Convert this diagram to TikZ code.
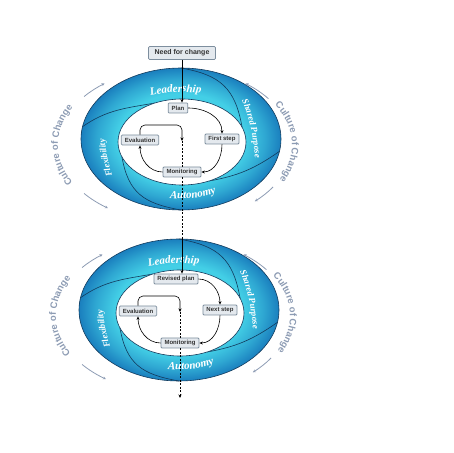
\documentclass[tikz,border=0pt]{standalone}
\usepackage{fontspec}
\setmainfont{Liberation Serif}
\setsansfont{Liberation Sans}
\usetikzlibrary{arrows.meta,decorations.text}

\definecolor{ringdark}{HTML}{1A7FBE}
\definecolor{ringlight}{HTML}{43CFE6}
\definecolor{ringline}{HTML}{123A5C}
\definecolor{boxfill}{HTML}{E4E9EE}
\definecolor{boxedge}{HTML}{7D8E9E}
\definecolor{culture}{HTML}{8C9BB3}

\pgfdeclareradialshading{ringshade}{\pgfpoint{0bp}{0bp}}{color(0bp)=(ringlight); color(16bp)=(ringlight); color(21bp)=(ringlight!50!ringdark); color(25bp)=(ringdark); color(50bp)=(ringdark)}

% white label along a path: size, path, text
\newcommand{\ringlabel}[3]{%
  \path[decorate, decoration={text along path, text align=center, text color=white,
    text={|\fontsize{#1}{#1}\selectfont\bfseries\itshape|#3}}] #2;}
\newcommand{\culturetext}[1]{%
  \path[decorate, decoration={text along path, text align=center, text color=culture,
    text={|\sffamily\bfseries\fontsize{9.5}{10}\selectfont|Culture of Change}}] #1;}

\tikzset{
  stepbox/.style={draw=boxedge, fill=boxfill, rounded corners=1pt, line width=0.8pt,
    text=black!80, font=\sffamily\bfseries\fontsize{6}{7}\selectfont,
    minimum height=10pt, inner xsep=3.5pt, inner ysep=1.5pt},
  needbox/.style={stepbox, font=\sffamily\bfseries\fontsize{7}{8}\selectfont,
    minimum height=13pt, inner xsep=6pt},
  flow/.style={line width=0.6pt, -{Stealth[length=3.5pt, width=3pt]}},
  dashline/.style={line width=0.8pt, dash pattern=on 2pt off 1.5pt},
  swirl/.style={ringline, line width=0.6pt},
  culturearrow/.style={culture, line width=0.8pt, -{Stealth[length=3pt, width=3pt, open]}}
}

\begin{document}
\begin{tikzpicture}[x=1pt, y=1pt]
    \useasboundingbox (0,0) rectangle (453,453);

    % the two cycles
    \foreach \i/\cx/\cy/\plantext/\steptext in {1/181/314/Plan/First step, 2/179/143/Revised plan/Next step}{
    \begin{scope}[shift={(\cx,\cy)}]
        % ring and its four swirls
        \shade[shading=ringshade] (0,0) ellipse [x radius=100pt, y radius=71pt];
        \draw[swirl] (0,71) to[out=-10, in=100, looseness=1.2] (61.1,11.7);
        \draw[swirl] (98.5,-12.3) to[out=215, in=10] (28,-42);
        \draw[swirl] (0,-71) to[out=170, in=280, looseness=1.2] (-59.1,-17.7);
        \draw[swirl] (-98.5,12.3) to[out=35, in=190] (-26,36);
        \draw[swirl] (0,0) ellipse [x radius=100pt, y radius=71pt];
        \filldraw[swirl, fill=white] (1,-3) ellipse [x radius=64pt, y radius=43pt];

        % ring labels
        \ringlabel{11}{(150:82pt and 47pt) arc[start angle=150, end angle=40, x radius=82pt, y radius=47pt]}{Leadership}
        \ringlabel{9}{(56,48) .. controls (66,30) and (72,12) .. (75,-30)}{Shared Purpose}
        \ringlabel{9}{(-64,-52) .. controls (-72,-30) and (-76,-10) .. (-78,16)}{Flexibility}
        \ringlabel{11}{(235:80pt and 60pt) arc[start angle=235, end angle=325, x radius=80pt, y radius=60pt]}{Autonomy}

        % culture of change, both sides
        \culturetext{(-6,-6) ++(228:117pt and 77pt) arc[start angle=228, end angle=132, x radius=117pt, y radius=77pt]}
        \culturetext{(-6,-6) ++(50:117pt and 77pt) arc[start angle=50, end angle=-46, x radius=117pt, y radius=77pt]}
        \draw[culturearrow] (-6,-6) ++(141:117pt and 77pt) arc[start angle=141, end angle=127, x radius=117pt, y radius=77pt];
        \draw[culturearrow] (-6,-6) ++(219:117pt and 77pt) arc[start angle=219, end angle=235, x radius=117pt, y radius=77pt];
        \draw[culturearrow] (-6,-6) ++(37:117pt and 77pt) arc[start angle=37, end angle=53, x radius=117pt, y radius=77pt];
        \draw[culturearrow] (-6,-6) ++(-33:117pt and 77pt) arc[start angle=-33, end angle=-47, x radius=117pt, y radius=77pt];

        % steps
        \node[stepbox] (plan\i) at (-3,31) {\plantext};
        \node[stepbox] (step\i) at (41,0) {\steptext};
        \node[stepbox] (eval\i) at (-41,-1) {Evaluation};
        \node[stepbox] (mon\i) at (1,-33) {Monitoring};
        \coordinate (top\i) at (1,14);
        \coordinate (mid\i) at (1,-2);

        \draw[flow] (plan\i.east) to[out=0, in=90] (step\i.north);
        \draw[flow] (step\i.south) to[out=-90, in=0] (mon\i.east);
        \draw[flow] (mon\i.west) to[out=180, in=-90] (eval\i.south);
        \draw[flow, rounded corners=5pt] (eval\i.north) |- (top\i) -- (mid\i);
        \draw[dashline] (mid\i) -- (mon\i.north);
    \end{scope}
    }

    % start and links
    \node[needbox] (need) at (182,400) {Need for change};
    \coordinate (link) at (182,214);
    \coordinate (end) at (180,55);

    \draw[flow] (need.south) -- (need.south |- plan1.north);
    \draw[dashline] (mon1.south) -- (link);
    \draw[flow] (link) -- (link |- plan2.north);
    \draw[dashline, -{Stealth[length=3.5pt, width=3pt]}] (mon2.south) -- (end);
\end{tikzpicture}
\end{document}
